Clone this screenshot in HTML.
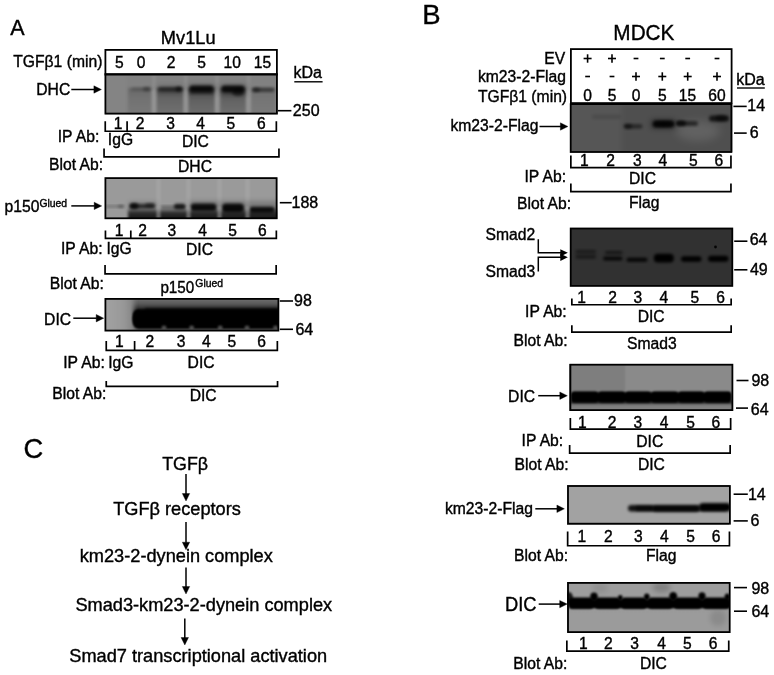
<!DOCTYPE html>
<html><head><meta charset="utf-8"><title>Figure</title>
<style>html,body{margin:0;padding:0;background:#fff;width:774px;height:675px;overflow:hidden}svg{display:block;filter:blur(0.35px)}</style>
</head><body>
<svg width="774" height="675" viewBox="0 0 774 675">
<defs>
<filter id="b1" x="-50%" y="-50%" width="200%" height="200%"><feGaussianBlur stdDeviation="1"/></filter>
<filter id="b2" x="-50%" y="-50%" width="200%" height="200%"><feGaussianBlur stdDeviation="1.6"/></filter>
<filter id="b3" x="-50%" y="-50%" width="200%" height="200%"><feGaussianBlur stdDeviation="2.5"/></filter>
<filter id="b4" x="-50%" y="-50%" width="200%" height="200%"><feGaussianBlur stdDeviation="4"/></filter>
</defs>
<rect width="774" height="675" fill="#fff"/>
<linearGradient id="g0_128_88" x1="0" y1="0" x2="0" y2="1"><stop offset="0" stop-color="#000" stop-opacity="0.2"/><stop offset="0.35" stop-color="#000" stop-opacity="0.12"/><stop offset="1" stop-color="#000" stop-opacity="0.06"/></linearGradient>
<linearGradient id="g1_157_88" x1="0" y1="0" x2="0" y2="1"><stop offset="0" stop-color="#000" stop-opacity="0.38"/><stop offset="0.35" stop-color="#000" stop-opacity="0.22799999999999998"/><stop offset="1" stop-color="#000" stop-opacity="0.11399999999999999"/></linearGradient>
<linearGradient id="g2_188_88" x1="0" y1="0" x2="0" y2="1"><stop offset="0" stop-color="#000" stop-opacity="0.45"/><stop offset="0.35" stop-color="#000" stop-opacity="0.27"/><stop offset="1" stop-color="#000" stop-opacity="0.135"/></linearGradient>
<linearGradient id="g3_220_88" x1="0" y1="0" x2="0" y2="1"><stop offset="0" stop-color="#000" stop-opacity="0.42"/><stop offset="0.35" stop-color="#000" stop-opacity="0.252"/><stop offset="1" stop-color="#000" stop-opacity="0.126"/></linearGradient>
<linearGradient id="g4_251_88" x1="0" y1="0" x2="0" y2="1"><stop offset="0" stop-color="#000" stop-opacity="0.16"/><stop offset="0.35" stop-color="#000" stop-opacity="0.096"/><stop offset="1" stop-color="#000" stop-opacity="0.048"/></linearGradient>
<clipPath id="cA1"><rect x="105" y="74" width="172.8" height="40.5"/></clipPath>
<g clip-path="url(#cA1)"><rect x="105" y="74" width="172.8" height="40.5" fill="#818181"/><rect x="105" y="74" width="22" height="42" rx="0" fill="#fff" opacity="0.03" filter="url(#b3)"/><rect x="128" y="88" width="23" height="28" fill="url(#g0_128_88)" filter="url(#b2)"/><rect x="157" y="88" width="26" height="28" fill="url(#g1_157_88)" filter="url(#b2)"/><rect x="188.5" y="88" width="26" height="28" fill="url(#g2_188_88)" filter="url(#b2)"/><rect x="220.5" y="88" width="25" height="28" fill="url(#g3_220_88)" filter="url(#b2)"/><rect x="251.5" y="88" width="24" height="28" fill="url(#g4_251_88)" filter="url(#b2)"/><rect x="152" y="74" width="4" height="42" rx="0" fill="#fff" opacity="0.08" filter="url(#b2)"/><rect x="152" y="90" width="4" height="25" rx="0" fill="#fff" opacity="0.1" filter="url(#b2)"/><rect x="183.8" y="74" width="4" height="42" rx="0" fill="#fff" opacity="0.08" filter="url(#b2)"/><rect x="183.8" y="90" width="4" height="25" rx="0" fill="#fff" opacity="0.1" filter="url(#b2)"/><rect x="215" y="74" width="4" height="42" rx="0" fill="#fff" opacity="0.08" filter="url(#b2)"/><rect x="215" y="90" width="4" height="25" rx="0" fill="#fff" opacity="0.1" filter="url(#b2)"/><rect x="246.5" y="74" width="4" height="42" rx="0" fill="#fff" opacity="0.08" filter="url(#b2)"/><rect x="246.5" y="90" width="4" height="25" rx="0" fill="#fff" opacity="0.1" filter="url(#b2)"/><rect x="131" y="87.3" width="19" height="3.4" rx="1.7" fill="#000" opacity="0.2" filter="url(#b2)"/><ellipse cx="147" cy="89" rx="4" ry="2.2" fill="#000" opacity="0.3" filter="url(#b2)"/><rect x="157" y="85.5" width="26" height="8" rx="3" fill="#000" opacity="0.18" filter="url(#b3)"/><rect x="158" y="87" width="24" height="4.2" rx="2.1" fill="#000" opacity="0.5" filter="url(#b2)"/><ellipse cx="179" cy="89" rx="3.5" ry="2.5" fill="#000" opacity="0.55" filter="url(#b2)"/><rect x="188" y="84.5" width="28" height="10" rx="3" fill="#000" opacity="0.25" filter="url(#b3)"/><rect x="220" y="84.5" width="27" height="11" rx="3" fill="#000" opacity="0.25" filter="url(#b3)"/><rect x="189.5" y="85.5" width="24" height="6.2" rx="3" fill="#000" opacity="0.85" filter="url(#b2)"/><rect x="190" y="90" width="23" height="4" rx="0" fill="#000" opacity="0.3" filter="url(#b2)"/><rect x="221.5" y="85.6" width="23" height="6.6" rx="3" fill="#000" opacity="0.85" filter="url(#b2)"/><ellipse cx="238" cy="92.5" rx="6" ry="3.5" fill="#000" opacity="0.55" filter="url(#b2)"/><rect x="252.5" y="87.8" width="22" height="4" rx="2" fill="#000" opacity="0.5" filter="url(#b2)"/><ellipse cx="256" cy="89.7" rx="4" ry="2.3" fill="#000" opacity="0.4" filter="url(#b2)"/></g>
<linearGradient id="g7_128_208" x1="0" y1="0" x2="0" y2="1"><stop offset="0" stop-color="#000" stop-opacity="0.0"/><stop offset="0.35" stop-color="#000" stop-opacity="0.7"/><stop offset="1" stop-color="#000" stop-opacity="0.9"/></linearGradient>
<clipPath id="cA2"><rect x="105" y="178" width="172.5" height="41"/></clipPath>
<g clip-path="url(#cA2)"><rect x="105" y="178" width="172.5" height="41" fill="#9a9a9a"/><rect x="128" y="208" width="150" height="13" fill="url(#g7_128_208)" filter="url(#b2)"/><rect x="106" y="205.3" width="18" height="2.2" rx="0" fill="#000" opacity="0.28" filter="url(#b2)"/><ellipse cx="121" cy="206.3" rx="3" ry="1.5" fill="#000" opacity="0.3" filter="url(#b2)"/><rect x="129" y="202" width="28" height="9" rx="0" fill="#000" opacity="0.2" filter="url(#b3)"/><rect x="189" y="201" width="90" height="12" rx="0" fill="#000" opacity="0.2" filter="url(#b3)"/><rect x="130" y="204.3" width="25" height="4" rx="2" fill="#000" opacity="0.7" filter="url(#b2)"/><ellipse cx="134" cy="206" rx="4.5" ry="3" fill="#000" opacity="0.8" filter="url(#b2)"/><ellipse cx="150" cy="205" rx="5" ry="2" fill="#000" opacity="0.45" filter="url(#b2)"/><rect x="161" y="205.6" width="24" height="3" rx="0" fill="#000" opacity="0.35" filter="url(#b2)"/><rect x="174" y="203.8" width="11.5" height="5.4" rx="2.5" fill="#000" opacity="0.8" filter="url(#b2)"/><rect x="190.5" y="203.6" width="26" height="7.4" rx="3.5" fill="#000" opacity="0.9" filter="url(#b2)"/><rect x="222" y="203.4" width="22" height="8.8" rx="4" fill="#000" opacity="0.92" filter="url(#b2)"/><rect x="249.5" y="206.8" width="25" height="6" rx="3" fill="#000" opacity="0.88" filter="url(#b2)"/><rect x="156.5" y="178" width="4" height="42" rx="0" fill="#fff" opacity="0.1" filter="url(#b2)"/><rect x="156.5" y="207" width="4" height="13" rx="0" fill="#aaa" opacity="0.45" filter="url(#b1)"/><rect x="186.5" y="178" width="4" height="42" rx="0" fill="#fff" opacity="0.1" filter="url(#b2)"/><rect x="186.5" y="207" width="4" height="13" rx="0" fill="#aaa" opacity="0.45" filter="url(#b1)"/><rect x="217.5" y="178" width="4" height="42" rx="0" fill="#fff" opacity="0.1" filter="url(#b2)"/><rect x="217.5" y="207" width="4" height="13" rx="0" fill="#aaa" opacity="0.45" filter="url(#b1)"/><rect x="245.5" y="178" width="4" height="42" rx="0" fill="#fff" opacity="0.1" filter="url(#b2)"/><rect x="245.5" y="207" width="4" height="13" rx="0" fill="#aaa" opacity="0.45" filter="url(#b1)"/></g>
<linearGradient id="g10_128_296" x1="0" y1="0" x2="0" y2="1"><stop offset="0" stop-color="#7a7a7a" stop-opacity="1"/><stop offset="0.45" stop-color="#585858" stop-opacity="1"/><stop offset="0.8" stop-color="#151515" stop-opacity="1"/><stop offset="1" stop-color="#000" stop-opacity="1"/></linearGradient>
<linearGradient id="h11_103_296" x1="0" y1="0" x2="1" y2="0"><stop offset="0" stop-color="#a4a4a4" stop-opacity="1"/><stop offset="0.6" stop-color="#989898" stop-opacity="1"/><stop offset="0.82" stop-color="#8a8a8a" stop-opacity="1"/><stop offset="1" stop-color="#8a8a8a" stop-opacity="0"/></linearGradient>
<clipPath id="cA3"><rect x="105" y="298" width="173.5" height="33"/></clipPath>
<g clip-path="url(#cA3)"><rect x="105" y="298" width="173.5" height="33" fill="#6a6a6a"/><rect x="128" y="296" width="152" height="18" fill="url(#g10_128_296)" filter="url(#b2)"/><rect x="103" y="296" width="34" height="38" fill="url(#h11_103_296)" filter="url(#b1)"/><rect x="133" y="309.5" width="150" height="19.5" rx="6" fill="#000" opacity="1" filter="url(#b1)"/><ellipse cx="138" cy="318.5" rx="5.5" ry="8" fill="#000" opacity="1" filter="url(#b1)"/><rect x="145" y="308" width="135" height="8" rx="0" fill="#000" opacity="0.6" filter="url(#b2)"/><ellipse cx="164" cy="327.5" rx="2.5" ry="2" fill="#888" opacity="0.6" filter="url(#b1)"/><ellipse cx="191.6" cy="327.5" rx="2.5" ry="2" fill="#888" opacity="0.6" filter="url(#b1)"/><ellipse cx="220.2" cy="327.5" rx="2.5" ry="2" fill="#888" opacity="0.6" filter="url(#b1)"/><ellipse cx="247" cy="327.5" rx="2.5" ry="2" fill="#888" opacity="0.6" filter="url(#b1)"/><ellipse cx="275.5" cy="327.5" rx="2.5" ry="2" fill="#888" opacity="0.6" filter="url(#b1)"/></g>
<clipPath id="cB1"><rect x="570" y="104" width="162.5" height="48"/></clipPath>
<g clip-path="url(#cB1)"><rect x="570" y="104" width="162.5" height="48" fill="#565656"/><rect x="622" y="104" width="112" height="50" rx="0" fill="#000" opacity="0.07" filter="url(#b3)"/><ellipse cx="698" cy="131" rx="22" ry="10" fill="#fff" opacity="0.1" filter="url(#b4)"/><rect x="592" y="114.8" width="29" height="4" rx="2" fill="#000" opacity="0.12" filter="url(#b2)"/><rect x="624" y="124.2" width="18.5" height="4.2" rx="2.1" fill="#000" opacity="0.5" filter="url(#b2)"/><ellipse cx="628" cy="126.3" rx="4" ry="2.3" fill="#000" opacity="0.5" filter="url(#b2)"/><rect x="650" y="118.5" width="26" height="11" rx="4" fill="#000" opacity="0.25" filter="url(#b3)"/><rect x="652.6" y="120.6" width="21.8" height="7" rx="3.5" fill="#000" opacity="0.85" filter="url(#b2)"/><ellipse cx="663.5" cy="124" rx="9" ry="2.8" fill="#000" opacity="0.5" filter="url(#b2)"/><rect x="676.2" y="121.3" width="21.8" height="4.4" rx="2.2" fill="#000" opacity="0.6" filter="url(#b2)"/><ellipse cx="681" cy="123.3" rx="5" ry="2.7" fill="#000" opacity="0.7" filter="url(#b2)"/><rect x="709" y="115.5" width="20" height="6" rx="3" fill="#000" opacity="0.72" filter="url(#b2)"/><ellipse cx="721" cy="118" rx="6" ry="3" fill="#000" opacity="0.5" filter="url(#b2)"/></g>
<clipPath id="cB2"><rect x="570" y="228" width="163" height="58"/></clipPath>
<g clip-path="url(#cB2)"><rect x="570" y="228" width="163" height="58" fill="#313131"/><rect x="575.5" y="250" width="20.5" height="3.4" rx="1.5" fill="#000" opacity="0.45" filter="url(#b2)"/><rect x="575.5" y="255" width="20.5" height="3.4" rx="1.5" fill="#000" opacity="0.5" filter="url(#b2)"/><rect x="605" y="251" width="17.5" height="3.2" rx="1.5" fill="#000" opacity="0.55" filter="url(#b2)"/><rect x="603" y="256.4" width="19.5" height="4" rx="2" fill="#000" opacity="0.85" filter="url(#b2)"/><rect x="626.5" y="257.8" width="21" height="4" rx="2" fill="#000" opacity="0.9" filter="url(#b2)"/><rect x="653.8" y="253.8" width="20" height="8.6" rx="4" fill="#000" opacity="1" filter="url(#b2)"/><rect x="681" y="256.3" width="20.5" height="5.4" rx="2.7" fill="#000" opacity="1" filter="url(#b2)"/><rect x="708" y="255.8" width="20.5" height="6" rx="3" fill="#000" opacity="1" filter="url(#b2)"/><ellipse cx="715.5" cy="247" rx="1.4" ry="1.4" fill="#000" opacity="0.9"/></g>
<linearGradient id="g18_570_401" x1="0" y1="0" x2="0" y2="1"><stop offset="0" stop-color="#000" stop-opacity="0.8"/><stop offset="1" stop-color="#000" stop-opacity="0"/></linearGradient>
<clipPath id="cB3"><rect x="569" y="364" width="163.5" height="47"/></clipPath>
<g clip-path="url(#cB3)"><rect x="569" y="364" width="163.5" height="47" fill="#8a8a8a"/><rect x="569" y="364" width="56" height="30" rx="0" fill="#7e7e7e" opacity="1" filter="url(#b1)"/><rect x="570" y="402" width="165" height="10" rx="0" fill="#808080" opacity="1" filter="url(#b1)"/><rect x="570" y="401" width="165" height="4.5" fill="url(#g18_570_401)" filter="url(#b1)"/><rect x="571" y="391.4" width="27.5" height="11.2" rx="3.5" fill="#000" opacity="1" filter="url(#b1)"/><rect x="598" y="391.4" width="27.5" height="11.2" rx="3.5" fill="#000" opacity="1" filter="url(#b1)"/><rect x="625" y="391.4" width="26.5" height="11.2" rx="3.5" fill="#000" opacity="1" filter="url(#b1)"/><rect x="651" y="391.4" width="27.5" height="11.2" rx="3.5" fill="#000" opacity="1" filter="url(#b1)"/><rect x="678" y="391.4" width="26.5" height="11.2" rx="3.5" fill="#000" opacity="1" filter="url(#b1)"/><rect x="704" y="391.4" width="27.5" height="11.2" rx="3.5" fill="#000" opacity="1" filter="url(#b1)"/><rect x="572" y="392.8" width="158" height="9" rx="0" fill="#000" opacity="1" filter="url(#b1)"/></g>
<clipPath id="cB4"><rect x="567" y="485" width="162.5" height="40"/></clipPath>
<g clip-path="url(#cB4)"><rect x="567" y="485" width="162.5" height="40" fill="#a2a2a2"/><rect x="628" y="505" width="26" height="6.6" rx="3.3" fill="#000" opacity="0.9" filter="url(#b2)"/><rect x="652" y="505" width="48" height="7" rx="3.5" fill="#000" opacity="0.92" filter="url(#b2)"/><rect x="699" y="503" width="32" height="8.6" rx="4" fill="#000" opacity="1" filter="url(#b2)"/><rect x="636" y="506.2" width="90" height="4.5" rx="0" fill="#000" opacity="0.6" filter="url(#b2)"/></g>
<linearGradient id="g23_567_608" x1="0" y1="0" x2="0" y2="1"><stop offset="0" stop-color="#9a9a9a" stop-opacity="1"/><stop offset="1" stop-color="#9c9c9c" stop-opacity="1"/></linearGradient>
<clipPath id="cB5"><rect x="567" y="582" width="162.5" height="50"/></clipPath>
<g clip-path="url(#cB5)"><rect x="567" y="582" width="162.5" height="50" fill="#9d9d9d"/><rect x="567" y="608" width="163" height="25" fill="url(#g23_567_608)" filter="url(#b1)"/><ellipse cx="569" cy="598" rx="4" ry="6" fill="#000" opacity="0.85" filter="url(#b1)"/><ellipse cx="661.5" cy="587.4" rx="9" ry="5" fill="#000" opacity="0.18" filter="url(#b3)"/><ellipse cx="600" cy="588" rx="8" ry="5" fill="#000" opacity="0.08" filter="url(#b3)"/><ellipse cx="718" cy="618" rx="8" ry="8" fill="#000" opacity="0.1" filter="url(#b3)"/><rect x="568" y="597.6" width="26.5" height="11.2" rx="4.5" fill="#000" opacity="1" filter="url(#b1)"/><rect x="594" y="597.6" width="27.0" height="11.2" rx="4.5" fill="#000" opacity="1" filter="url(#b1)"/><rect x="620.5" y="597.6" width="27.0" height="11.2" rx="4.5" fill="#000" opacity="1" filter="url(#b1)"/><rect x="647" y="597.6" width="26.5" height="11.2" rx="4.5" fill="#000" opacity="1" filter="url(#b1)"/><rect x="673" y="597.6" width="29.5" height="11.2" rx="4.5" fill="#000" opacity="1" filter="url(#b1)"/><rect x="702" y="597.6" width="28.5" height="11.2" rx="4.5" fill="#000" opacity="1" filter="url(#b1)"/><rect x="570" y="600" width="160" height="8" rx="0" fill="#000" opacity="1" filter="url(#b1)"/><ellipse cx="594" cy="597" rx="3.8" ry="4.3999999999999995" fill="#000" opacity="1" filter="url(#b1)"/><ellipse cx="620.3" cy="598" rx="2.4" ry="3.0" fill="#000" opacity="1" filter="url(#b1)"/><ellipse cx="646.8" cy="597" rx="2.8" ry="3.4" fill="#000" opacity="1" filter="url(#b1)"/><ellipse cx="673.2" cy="596.5" rx="4" ry="4.6" fill="#000" opacity="1" filter="url(#b1)"/><ellipse cx="702" cy="596.5" rx="3.6" ry="4.2" fill="#000" opacity="1" filter="url(#b1)"/><ellipse cx="727.4" cy="597" rx="2.8" ry="3.4" fill="#000" opacity="1" filter="url(#b1)"/></g>
<g font-family="Liberation Sans, Arial, sans-serif" fill="#000" stroke="#000" stroke-width="0.38">
<text x="10.25" y="34.65" font-size="21.50">A</text>
<text x="160.85" y="44.05" font-size="19.20" textLength="54.75" lengthAdjust="spacingAndGlyphs">Mv1Lu</text>
<text x="13.23" y="66.65" font-size="16.00" textLength="89.16" lengthAdjust="spacingAndGlyphs">TGFβ1 (min)</text>
<text x="115.06" y="67.85" font-size="15.60">5</text>
<text x="136.63" y="67.85" font-size="15.60">0</text>
<text x="166.73" y="67.85" font-size="15.60">2</text>
<text x="197.16" y="67.85" font-size="15.60">5</text>
<text x="223.48" y="67.85" font-size="15.60">10</text>
<text x="253.73" y="67.85" font-size="15.60">15</text>
<rect x="105.40" y="49.90" width="171.50" height="24.70" fill="none" stroke="#000" stroke-width="1.8"/>
<text x="36.31" y="94.55" font-size="16.00" textLength="33.97" lengthAdjust="spacingAndGlyphs">DHC</text>
<line x1="71.3" y1="89.5" x2="94.4" y2="89.5" stroke="#000" stroke-width="1.5"/>
<path d="M93.9,85.8 L101.4,89.5 L93.9,93.2 Z" fill="#000"/>
<text x="293.43" y="78.25" font-size="16.00">kDa</text>
<line x1="294.3" y1="81.8" x2="322.6" y2="81.8" stroke="#000" stroke-width="1.4"/>
<line x1="278" y1="110.7" x2="291.4" y2="110.7" stroke="#000" stroke-width="1.6"/>
<text x="292.85" y="115.95" font-size="16.00">250</text>
<rect x="105.40" y="74.10" width="171.50" height="39.50" fill="none" stroke="#000" stroke-width="1.8"/>
<text x="113.70" y="128.85" font-size="15.60">1</text>
<text x="135.73" y="128.85" font-size="15.60">2</text>
<text x="166.36" y="128.85" font-size="15.60">3</text>
<text x="196.36" y="128.85" font-size="15.60">4</text>
<text x="226.56" y="128.85" font-size="15.60">5</text>
<text x="257.03" y="128.85" font-size="15.60">6</text>
<path d="M105.25,121.3 V131.25 H276.34999999999997 V121.3" stroke="#000" stroke-width="1.7" fill="none" stroke-linejoin="miter" stroke-linecap="butt"/>
<line x1="127.1" y1="121.3" x2="127.1" y2="131.25" stroke="#000" stroke-width="1.7"/>
<text x="57.71" y="141.65" font-size="16.00" textLength="41.56" lengthAdjust="spacingAndGlyphs">IP Ab:</text>
<text x="107.84" y="144.55" font-size="16.00" textLength="25.27" lengthAdjust="spacingAndGlyphs">IgG</text>
<text x="181.90" y="147.35" font-size="16.00" textLength="27.00" lengthAdjust="spacingAndGlyphs">DIC</text>
<path d="M104.05,148.4 V156.95000000000002 H278.95 V148.4" stroke="#000" stroke-width="1.7" fill="none" stroke-linejoin="miter" stroke-linecap="butt"/>
<text x="49.07" y="169.75" font-size="16.00" textLength="54.05" lengthAdjust="spacingAndGlyphs">Blot Ab:</text>
<text x="178.00" y="171.95" font-size="16.00" textLength="33.97" lengthAdjust="spacingAndGlyphs">DHC</text>
<text x="4.55" y="211.65" font-size="16.00" textLength="34.88" lengthAdjust="spacingAndGlyphs">p150</text>
<text x="39.43" y="206.95" font-size="10.70" textLength="27.70" lengthAdjust="spacingAndGlyphs">Glued</text>
<line x1="71.3" y1="205.9" x2="94.7" y2="205.9" stroke="#000" stroke-width="1.5"/>
<path d="M94.2,202.20000000000002 L101.7,205.9 L94.2,209.6 Z" fill="#000"/>
<line x1="279.8" y1="202.7" x2="291.7" y2="202.7" stroke="#000" stroke-width="1.6"/>
<text x="291.57" y="207.95" font-size="16.00">188</text>
<rect x="105.40" y="178.10" width="171.20" height="40.20" fill="none" stroke="#000" stroke-width="1.8"/>
<text x="114.80" y="235.55" font-size="15.60">1</text>
<text x="138.18" y="235.55" font-size="15.60">2</text>
<text x="167.41" y="235.55" font-size="15.60">3</text>
<text x="198.36" y="235.55" font-size="15.60">4</text>
<text x="228.21" y="235.55" font-size="15.60">5</text>
<text x="257.98" y="235.55" font-size="15.60">6</text>
<path d="M105.44999999999999,230.5 V238.35 H276.34999999999997 V230.5" stroke="#000" stroke-width="1.7" fill="none" stroke-linejoin="miter" stroke-linecap="butt"/>
<line x1="130.8" y1="230.5" x2="130.8" y2="238.35" stroke="#000" stroke-width="1.7"/>
<text x="61.01" y="254.25" font-size="16.00" textLength="41.56" lengthAdjust="spacingAndGlyphs">IP Ab:</text>
<text x="106.44" y="254.25" font-size="16.00" textLength="25.27" lengthAdjust="spacingAndGlyphs">IgG</text>
<text x="186.00" y="255.35" font-size="16.00" textLength="27.00" lengthAdjust="spacingAndGlyphs">DIC</text>
<path d="M105.05,265 V273.84999999999997 H276.15 V265" stroke="#000" stroke-width="1.7" fill="none" stroke-linejoin="miter" stroke-linecap="butt"/>
<text x="49.77" y="288.75" font-size="16.00" textLength="54.05" lengthAdjust="spacingAndGlyphs">Blot Ab:</text>
<text x="160.39" y="292.65" font-size="16.00" textLength="33.82" lengthAdjust="spacingAndGlyphs">p150</text>
<text x="195.33" y="287.45" font-size="10.70" textLength="27.70" lengthAdjust="spacingAndGlyphs">Glued</text>
<text x="44.11" y="324.55" font-size="16.00" textLength="27.00" lengthAdjust="spacingAndGlyphs">DIC</text>
<line x1="73.3" y1="318.2" x2="96.7" y2="318.2" stroke="#000" stroke-width="1.5"/>
<path d="M96.2,314.5 L103.7,318.2 L96.2,321.9 Z" fill="#000"/>
<line x1="279.8" y1="301" x2="293" y2="301" stroke="#000" stroke-width="1.6"/>
<text x="294.05" y="305.85" font-size="16.00">98</text>
<line x1="279.8" y1="329.3" x2="293" y2="329.3" stroke="#000" stroke-width="1.6"/>
<text x="295.45" y="334.95" font-size="16.00">64</text>
<rect x="105.40" y="298.90" width="173.00" height="31.70" fill="none" stroke="#000" stroke-width="1.8"/>
<text x="115.05" y="347.05" font-size="15.60">1</text>
<text x="145.48" y="347.05" font-size="15.60">2</text>
<text x="176.71" y="347.05" font-size="15.60">3</text>
<text x="202.06" y="347.05" font-size="15.60">4</text>
<text x="227.56" y="347.05" font-size="15.60">5</text>
<text x="257.18" y="347.05" font-size="15.60">6</text>
<path d="M106.25,341 V350.34999999999997 H277.34999999999997 V341" stroke="#000" stroke-width="1.7" fill="none" stroke-linejoin="miter" stroke-linecap="butt"/>
<line x1="134.6" y1="341" x2="134.6" y2="350.34999999999997" stroke="#000" stroke-width="1.7"/>
<text x="63.21" y="367.95" font-size="16.00" textLength="41.56" lengthAdjust="spacingAndGlyphs">IP Ab:</text>
<text x="108.24" y="367.95" font-size="16.00" textLength="25.27" lengthAdjust="spacingAndGlyphs">IgG</text>
<text x="187.60" y="368.35" font-size="16.00" textLength="27.00" lengthAdjust="spacingAndGlyphs">DIC</text>
<path d="M106.25,381 V386.34999999999997 H277.54999999999995 V381" stroke="#000" stroke-width="1.7" fill="none" stroke-linejoin="miter" stroke-linecap="butt"/>
<text x="52.27" y="398.95" font-size="16.00" textLength="54.05" lengthAdjust="spacingAndGlyphs">Blot Ab:</text>
<text x="189.70" y="400.55" font-size="16.00" textLength="27.00" lengthAdjust="spacingAndGlyphs">DIC</text>
<text x="23.38" y="457.95" font-size="27.30">C</text>
<text x="162.17" y="470.15" font-size="18.20" textLength="45.92" lengthAdjust="spacingAndGlyphs">TGFβ</text>
<line x1="186" y1="474" x2="186" y2="494.0" stroke="#000" stroke-width="1.5"/>
<path d="M182.3,493.5 L186,501 L189.7,493.5 Z" fill="#000"/>
<text x="113.15" y="514.95" font-size="18.20">TGFβ receptors</text>
<line x1="186" y1="522" x2="186" y2="542.7" stroke="#000" stroke-width="1.5"/>
<path d="M182.3,542.2 L186,549.7 L189.7,542.2 Z" fill="#000"/>
<text x="79.75" y="561.75" font-size="18.20">km23-2-dynein complex</text>
<line x1="186" y1="567.6" x2="186" y2="587.0" stroke="#000" stroke-width="1.5"/>
<path d="M182.3,586.5 L186,594 L189.7,586.5 Z" fill="#000"/>
<text x="75.39" y="610.55" font-size="18.20">Smad3-km23-2-dynein complex</text>
<line x1="184.8" y1="618.4" x2="184.8" y2="638.0" stroke="#000" stroke-width="1.5"/>
<path d="M181.10000000000002,637.5 L184.8,645 L188.5,637.5 Z" fill="#000"/>
<text x="69.34" y="661.75" font-size="18.20">Smad7 transcriptional activation</text>
<text x="422.15" y="23.65" font-size="27.50">B</text>
<text x="613.34" y="39.55" font-size="21.30" textLength="61.15" lengthAdjust="spacingAndGlyphs">MDCK</text>
<text x="544.20" y="63.95" font-size="16.00" textLength="20.92" lengthAdjust="spacingAndGlyphs">EV</text>
<text x="477.93" y="82.05" font-size="16.00" textLength="88.01" lengthAdjust="spacingAndGlyphs">km23-2-Flag</text>
<text x="477.93" y="101.65" font-size="16.00" textLength="89.16" lengthAdjust="spacingAndGlyphs">TGFβ1 (min)</text>
<line x1="583.6" y1="58.5" x2="591.6" y2="58.5" stroke="#000" stroke-width="1.6"/>
<line x1="587.6" y1="54.3" x2="587.6" y2="62.7" stroke="#000" stroke-width="1.6"/>
<line x1="608" y1="58.5" x2="616" y2="58.5" stroke="#000" stroke-width="1.6"/>
<line x1="612" y1="54.3" x2="612" y2="62.7" stroke="#000" stroke-width="1.6"/>
<line x1="633.6" y1="58.5" x2="638.4" y2="58.5" stroke="#000" stroke-width="1.6"/>
<line x1="659.9" y1="58.5" x2="664.6999999999999" y2="58.5" stroke="#000" stroke-width="1.6"/>
<line x1="685.3000000000001" y1="58.5" x2="690.1" y2="58.5" stroke="#000" stroke-width="1.6"/>
<line x1="714.6" y1="58.5" x2="719.4" y2="58.5" stroke="#000" stroke-width="1.6"/>
<line x1="585.2" y1="76.5" x2="590.0" y2="76.5" stroke="#000" stroke-width="1.6"/>
<line x1="609.6" y1="76.5" x2="614.4" y2="76.5" stroke="#000" stroke-width="1.6"/>
<line x1="632" y1="76.5" x2="640" y2="76.5" stroke="#000" stroke-width="1.6"/>
<line x1="636" y1="72.3" x2="636" y2="80.7" stroke="#000" stroke-width="1.6"/>
<line x1="658.3" y1="76.5" x2="666.3" y2="76.5" stroke="#000" stroke-width="1.6"/>
<line x1="662.3" y1="72.3" x2="662.3" y2="80.7" stroke="#000" stroke-width="1.6"/>
<line x1="683.7" y1="76.5" x2="691.7" y2="76.5" stroke="#000" stroke-width="1.6"/>
<line x1="687.7" y1="72.3" x2="687.7" y2="80.7" stroke="#000" stroke-width="1.6"/>
<line x1="713" y1="76.5" x2="721" y2="76.5" stroke="#000" stroke-width="1.6"/>
<line x1="717" y1="72.3" x2="717" y2="80.7" stroke="#000" stroke-width="1.6"/>
<text x="583.23" y="101.15" font-size="15.60">0</text>
<text x="607.71" y="101.15" font-size="15.60">5</text>
<text x="631.63" y="101.15" font-size="15.60">0</text>
<text x="658.01" y="101.15" font-size="15.60">5</text>
<text x="678.73" y="101.15" font-size="15.60">15</text>
<text x="708.26" y="101.15" font-size="15.60">60</text>
<rect x="570.90" y="49.10" width="160.70" height="54.00" fill="none" stroke="#000" stroke-width="1.8"/>
<text x="736.13" y="85.45" font-size="16.00">kDa</text>
<line x1="737" y1="88" x2="764.8" y2="88" stroke="#000" stroke-width="1.4"/>
<line x1="733.4" y1="106.4" x2="746.7" y2="106.4" stroke="#000" stroke-width="1.6"/>
<text x="747.37" y="111.35" font-size="16.00">14</text>
<line x1="734" y1="133.1" x2="746.7" y2="133.1" stroke="#000" stroke-width="1.6"/>
<text x="749.85" y="138.25" font-size="16.00">6</text>
<text x="450.43" y="131.15" font-size="16.00" textLength="88.01" lengthAdjust="spacingAndGlyphs">km23-2-Flag</text>
<line x1="539.5" y1="126.5" x2="560.9" y2="126.5" stroke="#000" stroke-width="1.5"/>
<path d="M560.4,122.8 L567.9,126.5 L560.4,130.2 Z" fill="#000"/>
<rect x="570.70" y="104.10" width="160.70" height="47.90" fill="none" stroke="#000" stroke-width="1.8"/>
<text x="580.10" y="166.45" font-size="15.60">1</text>
<text x="606.18" y="166.45" font-size="15.60">2</text>
<text x="632.91" y="166.45" font-size="15.60">3</text>
<text x="658.41" y="166.45" font-size="15.60">4</text>
<text x="689.11" y="166.45" font-size="15.60">5</text>
<text x="714.38" y="166.45" font-size="15.60">6</text>
<path d="M570.85,155.5 V167.55 H730.9499999999999 V155.5" stroke="#000" stroke-width="1.7" fill="none" stroke-linejoin="miter" stroke-linecap="butt"/>
<text x="524.51" y="181.55" font-size="16.00" textLength="41.56" lengthAdjust="spacingAndGlyphs">IP Ab:</text>
<text x="629.00" y="183.95" font-size="16.00" textLength="27.00" lengthAdjust="spacingAndGlyphs">DIC</text>
<path d="M570.85,183.5 V191.65 H730.9499999999999 V183.5" stroke="#000" stroke-width="1.7" fill="none" stroke-linejoin="miter" stroke-linecap="butt"/>
<text x="517.07" y="209.35" font-size="16.00" textLength="54.05" lengthAdjust="spacingAndGlyphs">Blot Ab:</text>
<text x="629.00" y="207.85" font-size="16.00" textLength="30.50" lengthAdjust="spacingAndGlyphs">Flag</text>
<text x="485.47" y="239.95" font-size="16.00" textLength="49.68" lengthAdjust="spacingAndGlyphs">Smad2</text>
<text x="485.47" y="276.85" font-size="16.00" textLength="49.68" lengthAdjust="spacingAndGlyphs">Smad3</text>
<path d="M538.3,239.3 V252.8 H561" stroke="#000" stroke-width="1.5" fill="none" stroke-linejoin="miter" stroke-linecap="butt"/>
<path d="M538.3,271.5 V257.3 H561" stroke="#000" stroke-width="1.5" fill="none" stroke-linejoin="miter" stroke-linecap="butt"/>
<path d="M560.3,249.2 L567.8,252.8 L560.3,256.4 Z" fill="#000" stroke="none"/>
<path d="M560.3,253.7 L567.8,257.3 L560.3,260.9 Z" fill="#000" stroke="none"/>
<line x1="734.2" y1="241.2" x2="747.4" y2="241.2" stroke="#000" stroke-width="1.6"/>
<text x="749.65" y="245.35" font-size="16.00">64</text>
<line x1="734.2" y1="269.8" x2="747.4" y2="269.8" stroke="#000" stroke-width="1.6"/>
<text x="749.93" y="275.25" font-size="16.00">49</text>
<rect x="570.70" y="228.50" width="161.60" height="57.40" fill="none" stroke="#000" stroke-width="1.8"/>
<text x="577.15" y="302.85" font-size="15.60">1</text>
<text x="608.18" y="302.85" font-size="15.60">2</text>
<text x="633.46" y="302.85" font-size="15.60">3</text>
<text x="659.51" y="302.85" font-size="15.60">4</text>
<text x="690.41" y="302.85" font-size="15.60">5</text>
<text x="716.18" y="302.85" font-size="15.60">6</text>
<path d="M571.85,298.5 V304.75 H731.15 V298.5" stroke="#000" stroke-width="1.7" fill="none" stroke-linejoin="miter" stroke-linecap="butt"/>
<text x="525.11" y="316.95" font-size="16.00" textLength="41.56" lengthAdjust="spacingAndGlyphs">IP Ab:</text>
<text x="637.70" y="321.95" font-size="16.00" textLength="27.00" lengthAdjust="spacingAndGlyphs">DIC</text>
<path d="M571.85,325.3 V332.04999999999995 H731.15 V325.3" stroke="#000" stroke-width="1.7" fill="none" stroke-linejoin="miter" stroke-linecap="butt"/>
<text x="513.57" y="346.15" font-size="16.00" textLength="54.05" lengthAdjust="spacingAndGlyphs">Blot Ab:</text>
<text x="627.07" y="349.45" font-size="16.00" textLength="49.68" lengthAdjust="spacingAndGlyphs">Smad3</text>
<text x="508.11" y="402.05" font-size="16.00" textLength="27.00" lengthAdjust="spacingAndGlyphs">DIC</text>
<line x1="538.2" y1="395.7" x2="560.3" y2="395.7" stroke="#000" stroke-width="1.5"/>
<path d="M559.8,392.0 L567.3,395.7 L559.8,399.4 Z" fill="#000"/>
<line x1="736.5" y1="380.5" x2="748.5" y2="380.5" stroke="#000" stroke-width="1.6"/>
<text x="751.45" y="386.15" font-size="16.00">98</text>
<line x1="736" y1="408.1" x2="748" y2="408.1" stroke="#000" stroke-width="1.6"/>
<text x="750.75" y="415.15" font-size="16.00">64</text>
<rect x="570.40" y="364.70" width="162.00" height="45.40" fill="none" stroke="#000" stroke-width="1.8"/>
<text x="577.95" y="428.05" font-size="15.60">1</text>
<text x="607.63" y="428.05" font-size="15.60">2</text>
<text x="633.41" y="428.05" font-size="15.60">3</text>
<text x="659.71" y="428.05" font-size="15.60">4</text>
<text x="686.31" y="428.05" font-size="15.60">5</text>
<text x="711.38" y="428.05" font-size="15.60">6</text>
<path d="M570.35,418 V429.04999999999995 H730.65 V418" stroke="#000" stroke-width="1.7" fill="none" stroke-linejoin="miter" stroke-linecap="butt"/>
<text x="521.61" y="446.25" font-size="16.00" textLength="41.56" lengthAdjust="spacingAndGlyphs">IP Ab:</text>
<text x="636.30" y="447.25" font-size="16.00" textLength="27.00" lengthAdjust="spacingAndGlyphs">DIC</text>
<path d="M569.65,445 V453.04999999999995 H730.15 V445" stroke="#000" stroke-width="1.7" fill="none" stroke-linejoin="miter" stroke-linecap="butt"/>
<text x="514.57" y="470.15" font-size="16.00" textLength="54.05" lengthAdjust="spacingAndGlyphs">Blot Ab:</text>
<text x="637.90" y="469.95" font-size="16.00" textLength="27.00" lengthAdjust="spacingAndGlyphs">DIC</text>
<text x="444.93" y="514.15" font-size="16.00" textLength="88.01" lengthAdjust="spacingAndGlyphs">km23-2-Flag</text>
<line x1="535.3" y1="508.8" x2="557.4" y2="508.8" stroke="#000" stroke-width="1.5"/>
<path d="M556.9,505.1 L564.4,508.8 L556.9,512.5 Z" fill="#000"/>
<line x1="733.6" y1="494.2" x2="747.8" y2="494.2" stroke="#000" stroke-width="1.6"/>
<text x="747.97" y="499.55" font-size="16.00">14</text>
<line x1="733.6" y1="520.9" x2="747.8" y2="520.9" stroke="#000" stroke-width="1.6"/>
<text x="750.45" y="526.25" font-size="16.00">6</text>
<rect x="568.00" y="486.00" width="161.90" height="37.70" fill="none" stroke="#000" stroke-width="1.8"/>
<text x="577.45" y="542.45" font-size="15.60">1</text>
<text x="603.98" y="542.45" font-size="15.60">2</text>
<text x="633.96" y="542.45" font-size="15.60">3</text>
<text x="659.96" y="542.45" font-size="15.60">4</text>
<text x="686.31" y="542.45" font-size="15.60">5</text>
<text x="711.73" y="542.45" font-size="15.60">6</text>
<path d="M567.65,531.5 V545.75 H729.4499999999999 V531.5" stroke="#000" stroke-width="1.7" fill="none" stroke-linejoin="miter" stroke-linecap="butt"/>
<text x="514.07" y="561.45" font-size="16.00" textLength="54.05" lengthAdjust="spacingAndGlyphs">Blot Ab:</text>
<text x="645.90" y="561.25" font-size="16.00" textLength="30.50" lengthAdjust="spacingAndGlyphs">Flag</text>
<text x="504.98" y="610.95" font-size="19.30" textLength="31.58" lengthAdjust="spacingAndGlyphs">DIC</text>
<line x1="538.7" y1="604.1" x2="560.2" y2="604.1" stroke="#000" stroke-width="1.5"/>
<path d="M559.7,600.4 L567.2,604.1 L559.7,607.8000000000001 Z" fill="#000"/>
<line x1="734" y1="587.6" x2="747" y2="587.6" stroke="#000" stroke-width="1.6"/>
<text x="751.45" y="593.55" font-size="16.00">98</text>
<line x1="734" y1="611.2" x2="747" y2="611.2" stroke="#000" stroke-width="1.6"/>
<text x="751.45" y="616.95" font-size="16.00">64</text>
<rect x="568.00" y="582.90" width="161.70" height="49.20" fill="none" stroke="#000" stroke-width="1.8"/>
<text x="578.90" y="649.15" font-size="15.60">1</text>
<text x="603.88" y="649.15" font-size="15.60">2</text>
<text x="630.31" y="649.15" font-size="15.60">3</text>
<text x="657.21" y="649.15" font-size="15.60">4</text>
<text x="682.91" y="649.15" font-size="15.60">5</text>
<text x="708.78" y="649.15" font-size="15.60">6</text>
<path d="M566.85,640.5 V651.05 H728.75 V640.5" stroke="#000" stroke-width="1.7" fill="none" stroke-linejoin="miter" stroke-linecap="butt"/>
<text x="513.27" y="669.35" font-size="16.00" textLength="54.05" lengthAdjust="spacingAndGlyphs">Blot Ab:</text>
<text x="639.90" y="669.35" font-size="16.00" textLength="27.00" lengthAdjust="spacingAndGlyphs">DIC</text>
</g>
</svg>
</body></html>
